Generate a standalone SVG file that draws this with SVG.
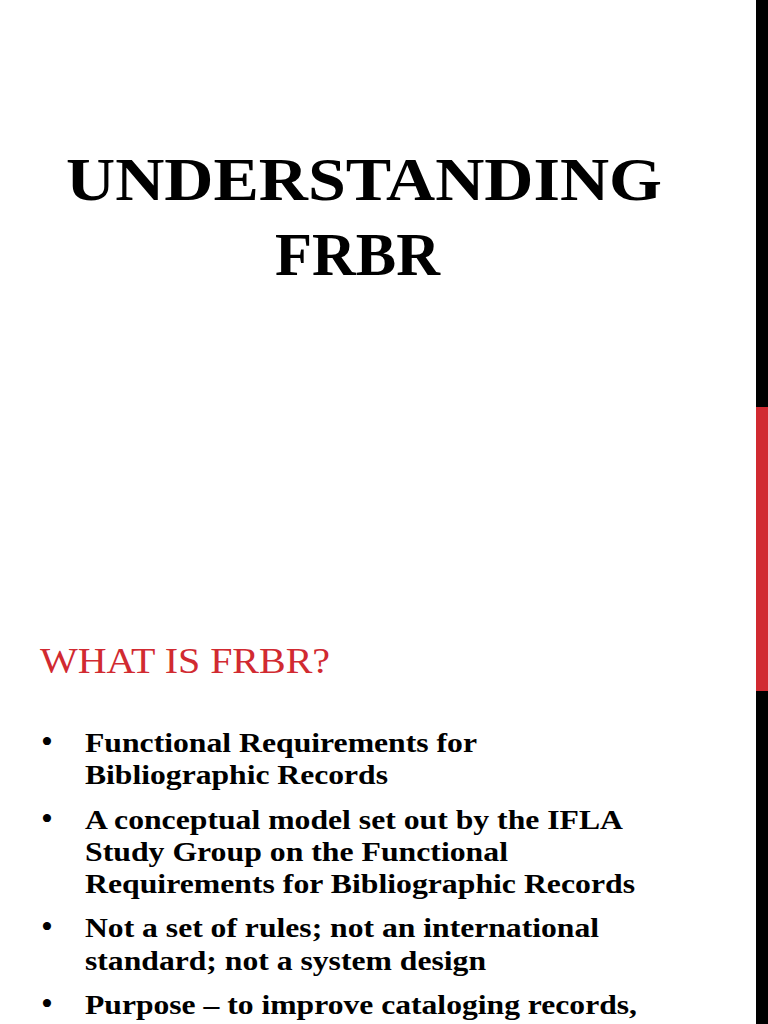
<svg xmlns="http://www.w3.org/2000/svg" width="768" height="1024" viewBox="0 0 768 1024">
<style>
.t{font-family:"Liberation Serif",serif;font-weight:bold;fill:#000}
.b{font-family:"Liberation Serif",serif;font-weight:bold;font-size:27px;fill:#000}
.d{font-family:"Liberation Serif",serif;font-size:34px;fill:#000}
</style>
<rect width="768" height="1024" fill="#fff"/>
<rect x="756" y="0" width="12" height="407" fill="#000"/>
<rect x="756" y="407" width="12" height="284" fill="#d12a31"/>
<rect x="756" y="691" width="12" height="333" fill="#000"/>
<text class="t" x="66" y="200" font-size="62" textLength="596" lengthAdjust="spacingAndGlyphs">UNDERSTANDING</text>
<text class="t" x="275" y="275" font-size="62" textLength="165" lengthAdjust="spacingAndGlyphs">FRBR</text>
<text x="40" y="673" font-family="Liberation Serif,serif" font-size="35" fill="#d12a31" textLength="290" lengthAdjust="spacingAndGlyphs">WHAT IS FRBR?</text>
<text class="d" x="41" y="753">•</text>
<text class="b" x="85" y="752" textLength="392" lengthAdjust="spacingAndGlyphs">Functional Requirements for</text>
<text class="b" x="85" y="784" textLength="303" lengthAdjust="spacingAndGlyphs">Bibliographic Records</text>
<text class="d" x="41" y="830">•</text>
<text class="b" x="85" y="829" textLength="538" lengthAdjust="spacingAndGlyphs">A conceptual model set out by the IFLA</text>
<text class="b" x="85" y="861" textLength="423" lengthAdjust="spacingAndGlyphs">Study Group on the Functional</text>
<text class="b" x="85" y="893" textLength="550" lengthAdjust="spacingAndGlyphs">Requirements for Bibliographic Records</text>
<text class="d" x="41" y="938">•</text>
<text class="b" x="85" y="937" textLength="514" lengthAdjust="spacingAndGlyphs">Not a set of rules; not an international</text>
<text class="b" x="85" y="970" textLength="401" lengthAdjust="spacingAndGlyphs">standard; not a system design</text>
<text class="d" x="41" y="1015">•</text>
<text class="b" x="85" y="1014" textLength="552" lengthAdjust="spacingAndGlyphs">Purpose – to improve cataloging records,</text>
</svg>
